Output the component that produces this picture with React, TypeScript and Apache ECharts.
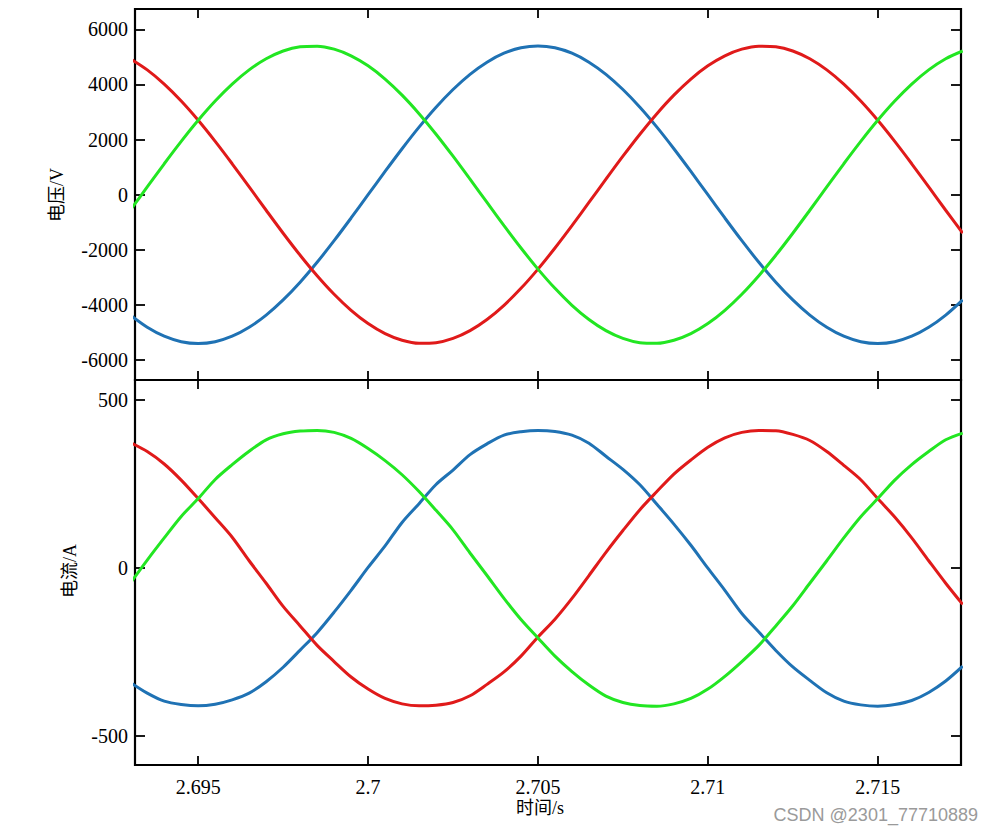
import React, { useEffect, useRef } from "react";
import * as echarts from "echarts";

// time samples (s)
const times = [
  2.693, 2.6935, 2.694, 2.6945, 2.695, 2.6955, 2.696, 2.6965, 2.697, 2.6975,
  2.698, 2.6985, 2.699, 2.6995, 2.7, 2.7005, 2.701, 2.7015, 2.702, 2.7025,
  2.703, 2.7035, 2.704, 2.7045, 2.705, 2.7055, 2.706, 2.7065, 2.707, 2.7075,
  2.708, 2.7085, 2.709, 2.7095, 2.71, 2.7105, 2.711, 2.7115, 2.712, 2.7125,
  2.713, 2.7135, 2.714, 2.7145, 2.715, 2.7155, 2.716, 2.7165, 2.717, 2.7175,
];

// voltage (V)
const voltageBlue = [
  -4369, -4811, -5136, -5334, -5400, -5334, -5136, -4811, -4369, -3818,
  -3174, -2452, -1669, -845, 0, 845, 1669, 2452, 3174, 3818,
  4369, 4811, 5136, 5334, 5400, 5334, 5136, 4811, 4369, 3818,
  3174, 2452, 1669, 845, 0, -845, -1669, -2452, -3174, -3818,
  -4369, -4811, -5136, -5334, -5400, -5334, -5136, -4811, -4369, -3818,
];
const voltageRed = [
  4933, 4529, 4013, 3398, 2700, 1935, 1123, 282, -564, -1398,
  -2196, -2941, -3613, -4196, -4677, -5041, -5282, -5392, -5370, -5216,
  -4933, -4529, -4013, -3398, -2700, -1935, -1123, -282, 564, 1398,
  2196, 2941, 3613, 4196, 4677, 5041, 5282, 5392, 5370, 5216,
  4933, 4529, 4013, 3398, 2700, 1935, 1123, 282, -564, -1398,
];
const voltageGreen = [
  -564, 282, 1123, 1935, 2700, 3398, 4013, 4529, 4933, 5216,
  5370, 5392, 5282, 5041, 4677, 4196, 3613, 2941, 2196, 1398,
  564, -282, -1123, -1935, -2700, -3398, -4013, -4529, -4933, -5216,
  -5370, -5392, -5282, -5041, -4677, -4196, -3613, -2941, -2196, -1398,
  -564, 282, 1123, 1935, 2700, 3398, 4013, 4529, 4933, 5216,
];

// current (A)
const currentBlue = [
  -340, -372, -396, -406, -410, -405, -392, -372, -338, -295,
  -244, -192, -131, -66, 2, 66, 136, 192, 249, 292,
  338, 370, 396, 406, 410, 407, 396, 372, 333, 294,
  248, 190, 131, 68, 0, -66, -135, -190, -245, -294,
  -334, -371, -396, -407, -411, -406, -394, -370, -336, -292,
];
const currentRed = [
  374, 347, 310, 262, 207, 150, 92, 22, -45, -114,
  -172, -230, -278, -324, -360, -388, -404, -410, -408, -400,
  -380, -346, -309, -262, -205, -152, -90, -22, 47, 112,
  174, 228, 280, 322, 360, 388, 404, 410, 409, 398,
  380, 347, 306, 263, 207, 152, 90, 22, -45, -108,
];
const currentGreen = [
  -45, 24, 90, 154, 207, 264, 308, 348, 382, 400,
  408, 410, 404, 386, 356, 320, 278, 228, 172, 114,
  45, -22, -90, -153, -208, -262, -308, -348, -381, -400,
  -409, -411, -404, -388, -360, -322, -278, -230, -172, -112,
  -45, 22, 90, 153, 207, 262, 308, 347, 382, 402,
];

const xTicks = [2.695, 2.7, 2.705, 2.71, 2.715];
const voltageTicks = [-6000, -4000, -2000, 0, 2000, 4000, 6000];
const currentTicks = [-500, 0, 500];

const colors = { blue: "#1f72b4", red: "#e01a1a", green: "#22e622" };

export default function App() {
  const ref = useRef<HTMLDivElement>(null);

  useEffect(() => {
    document.body.style.margin = "0";
    if (!ref.current) return;
    const chart = echarts.init(ref.current, undefined, { renderer: "svg" });

    const serif = "'Liberation Serif', 'Times New Roman', 'Noto Sans CJK SC', serif";
    const tickStyle = { color: "#000", width: 1.8 };
    const xMin = 2.69314;
    const xMax = 2.71745;

    const xAxisCfg = (gridIndex: number, position: string, showLabel: boolean) => ({
      type: "value",
      gridIndex,
      position,
      min: xMin,
      max: xMax,
      axisLine: { show: false, onZero: false },
      splitLine: { show: false },
      axisTick: {
        show: true,
        inside: true,
        length: 9,
        lineStyle: tickStyle,
        customValues: xTicks,
      },
      axisLabel: {
        show: showLabel,
        customValues: xTicks,
        formatter: (v: number) => String(v),
        fontFamily: serif,
        fontSize: 20,
        color: "#000",
        margin: 12,
      },
    });

    const yAxisCfg = (
      gridIndex: number,
      position: string,
      min: number,
      max: number,
      ticks: number[],
      showLabel: boolean
    ) => ({
      type: "value",
      gridIndex,
      position,
      min,
      max,
      axisLine: { show: false, onZero: false },
      splitLine: { show: false },
      axisTick: {
        show: true,
        inside: true,
        length: 10,
        lineStyle: tickStyle,
        customValues: ticks,
      },
      axisLabel: {
        show: showLabel,
        customValues: ticks,
        formatter: (v: number) => String(v),
        fontFamily: serif,
        fontSize: 20,
        color: "#000",
        margin: 7,
      },
    });

    const pair = (arr: number[]) => times.map((t, i) => [t, arr[i]]);
    const lineSeries = (data: number[], color: string, xIdx: number, yIdx: number) => ({
      type: "line",
      xAxisIndex: xIdx,
      yAxisIndex: yIdx,
      data: pair(data),
      showSymbol: false,
      smooth: 0.3,
      clip: true,
      lineStyle: { color, width: 3 },
      itemStyle: { color },
    });

    chart.setOption({
      animation: false,
      backgroundColor: "#fff",
      grid: [
        { left: 135, top: 9, width: 826, height: 371, show: true, borderColor: "#000", borderWidth: 2.2, backgroundColor: "transparent" },
        { left: 135, top: 380, width: 826, height: 385, show: true, borderColor: "#000", borderWidth: 2.2, backgroundColor: "transparent" },
      ],
      xAxis: [
        xAxisCfg(0, "bottom", false),
        xAxisCfg(0, "top", false),
        xAxisCfg(1, "bottom", true),
        xAxisCfg(1, "top", false),
      ],
      yAxis: [
        yAxisCfg(0, "left", -6725, 6740, voltageTicks, true),
        yAxisCfg(1, "left", -586, 560, currentTicks, true),
        yAxisCfg(0, "right", -6725, 6740, voltageTicks, false),
        yAxisCfg(1, "right", -586, 560, currentTicks, false),
      ],
      series: [
        lineSeries(voltageBlue, colors.blue, 0, 0),
        lineSeries(voltageRed, colors.red, 0, 0),
        lineSeries(voltageGreen, colors.green, 0, 0),
        lineSeries(currentBlue, colors.blue, 2, 1),
        lineSeries(currentRed, colors.red, 2, 1),
        lineSeries(currentGreen, colors.green, 2, 1),
      ],
      graphic: [
        {
          type: "text",
          x: 57,
          y: 195,
          rotation: Math.PI / 2,
          style: { text: "电压/V", font: `18px ${serif}`, fill: "#000", textAlign: "center", textVerticalAlign: "middle" },
        },
        {
          type: "text",
          x: 70,
          y: 571,
          rotation: Math.PI / 2,
          style: { text: "电流/A", font: `18px ${serif}`, fill: "#000", textAlign: "center", textVerticalAlign: "middle" },
        },
        {
          type: "text",
          x: 540,
          y: 808,
          style: { text: "时间/s", font: `18px ${serif}`, fill: "#000", textAlign: "center", textVerticalAlign: "middle" },
        },
        {
          type: "text",
          x: 978,
          y: 815,
          style: { text: "CSDN @2301_77710889", font: "18px 'Liberation Sans', Arial, sans-serif", fill: "#9a9a9a", textAlign: "right", textVerticalAlign: "middle" },
        },
      ],
    });

    return () => chart.dispose();
  }, []);

  return <div ref={ref} style={{ width: 994, height: 833 }} />;
}
